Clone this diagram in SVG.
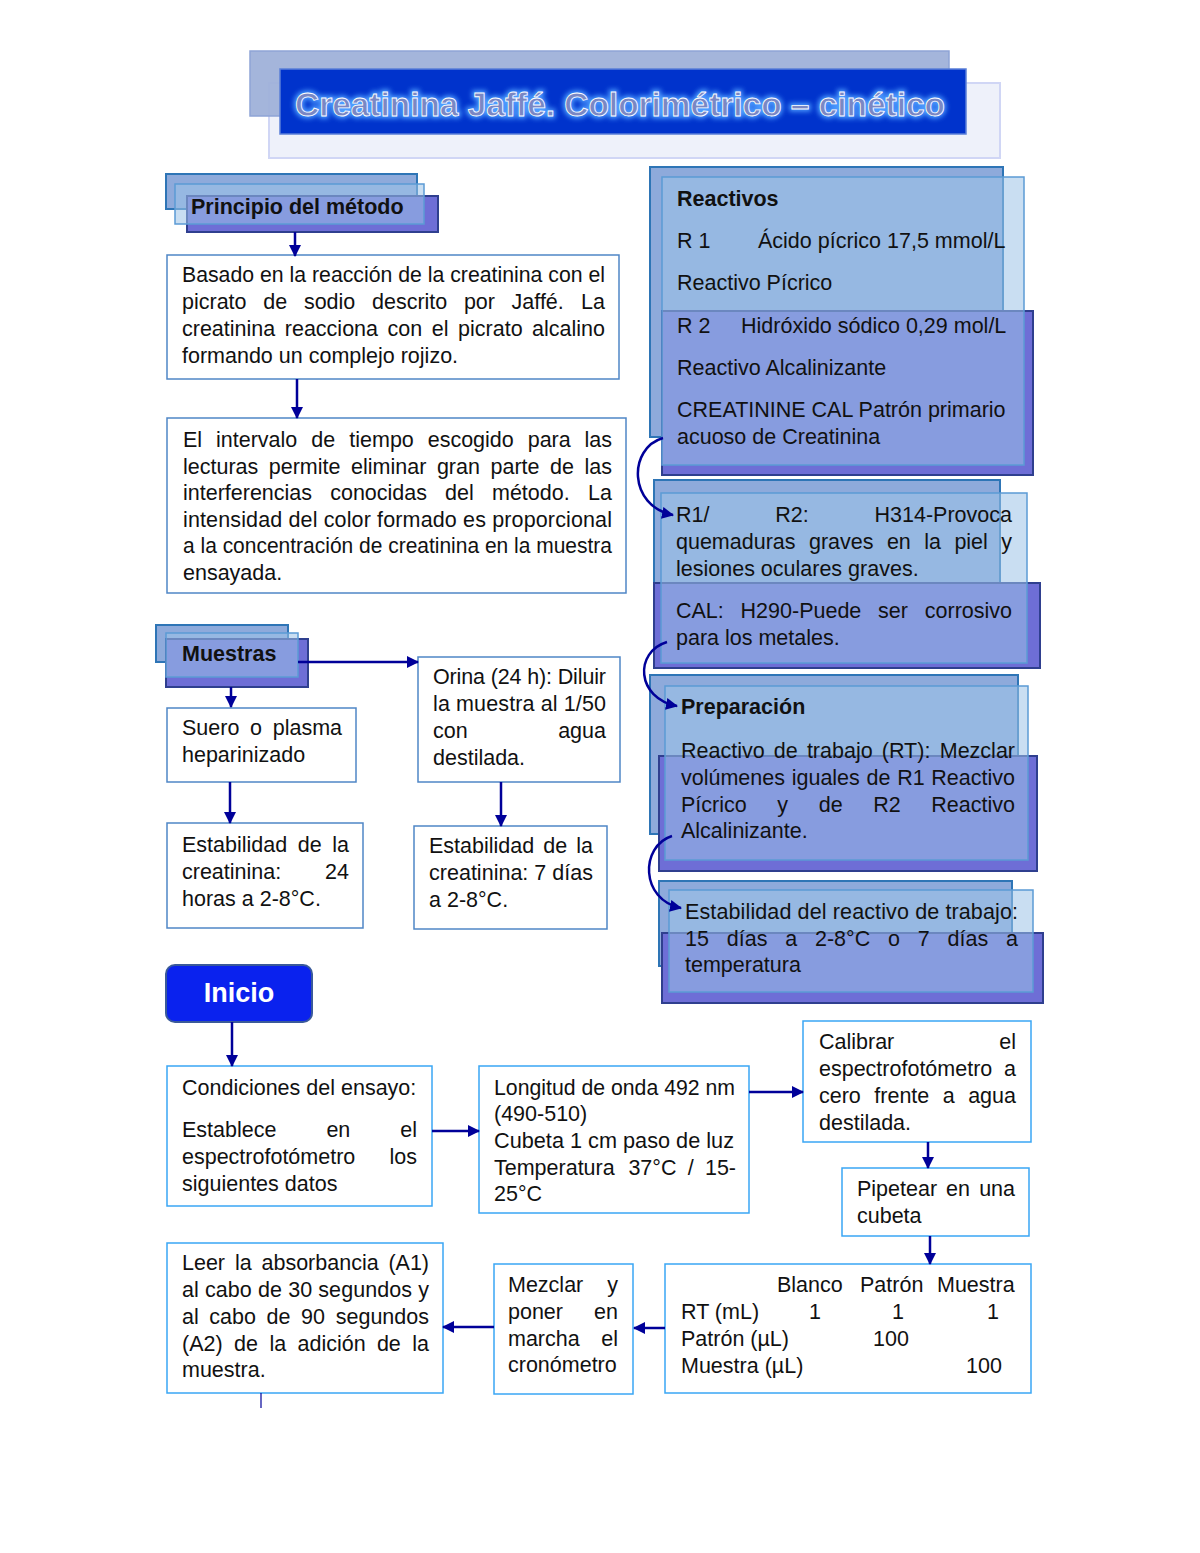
<svg xmlns="http://www.w3.org/2000/svg" width="1200" height="1553" viewBox="0 0 1200 1553">
<defs>
<style>
.t{font-family:"Liberation Sans",Arial,sans-serif;font-size:21.5px;fill:#111}
.bd{font-weight:bold}
.e{text-anchor:end}
.box{fill:#fff;stroke:#4f86c6;stroke-width:1.5}
.box2{fill:#fff;stroke:#3aa6f5;stroke-width:1.5}
.la{fill:#8eaadb;stroke:#2e75b6;stroke-width:2}
.lb{fill:#9cc3e8;fill-opacity:0.55;stroke:#5b9bd5;stroke-width:1.5}
.lc{fill:#6e6ed6;stroke:#2f3f8f;stroke-width:2}
.conn{stroke:#000099;stroke-width:2.5;fill:none}
</style>
<marker id="ah" markerWidth="12" markerHeight="12" refX="11" refY="6" orient="auto" markerUnits="userSpaceOnUse">
<path d="M0,0 L12,6 L0,12 z" fill="#000099"/>
</marker>
<filter id="glow" x="-5%" y="-30%" width="110%" height="160%">
<feGaussianBlur stdDeviation="2.5"/>
</filter>
</defs>
<rect width="1200" height="1553" fill="#fff"/>

<g id="title">
<rect x="269" y="83" width="731" height="75" fill="#eef1fa" stroke="#d0d6f5" stroke-width="2"/>
<rect x="250" y="51" width="699" height="65" fill="#9fb1d9" fill-opacity="0.95" stroke="#8ea4d6" stroke-width="1.5"/>
<rect x="280" y="69" width="686" height="65" fill="#0033cc" stroke="#5a7fd8" stroke-width="1.5"/>
<text x="295" y="116" class="t bd" style="font-size:33px;fill:none;stroke:#4d9cff;stroke-width:5" filter="url(#glow)" textLength="650" lengthAdjust="spacingAndGlyphs">Creatinina Jaffé. Colorimétrico – cinético</text>
<text x="295" y="116" class="t bd" style="font-size:33px;fill:#7a87c4;stroke:#fff;stroke-width:0.8" textLength="650" lengthAdjust="spacingAndGlyphs">Creatinina Jaffé. Colorimétrico – cinético</text>
</g>

<g id="principio">
<rect class="la" x="166" y="174" width="251" height="35"/>
<rect class="lc" x="187" y="196" width="251" height="36"/>
<rect class="lb" x="175" y="184" width="249" height="40"/>
<text class="t bd" x="191" y="214">Principio del método</text>
</g>

<g id="basado">
<rect class="box" x="167" y="255" width="452" height="124"/>
<text class="t" x="182" y="282" textLength="423" lengthAdjust="spacingAndGlyphs">Basado en la reacción de la creatinina con el</text>
<text class="t" y="309"><tspan x="182">picrato</tspan><tspan x="263.2">de</tspan><tspan x="303.9">sodio</tspan><tspan x="372">descrito</tspan><tspan x="463.9">por</tspan><tspan x="511.6">Jaffé.</tspan></text>
<text class="t e" x="605" y="309">La</text>
<text class="t" y="336"><tspan x="182">creatinina</tspan><tspan x="284.8">reacciona</tspan><tspan x="387.5">con</tspan><tspan x="431.8">el</tspan><tspan x="458.1">picrato</tspan></text>
<text class="t e" x="605" y="336">alcalino</text>
<text class="t" x="182" y="363">formando un complejo rojizo.</text>
</g>

<g id="intervalo">
<rect class="box" x="167" y="418" width="459" height="175"/>
<text class="t" y="447"><tspan x="183">El</tspan><tspan x="216">intervalo</tspan><tspan x="311.3">de</tspan><tspan x="349.3">tiempo</tspan><tspan x="427.7">escogido</tspan><tspan x="527.7">para</tspan></text>
<text class="t e" x="612" y="447">las</text>
<text class="t" y="474"><tspan x="183">lecturas</tspan><tspan x="268.8">permite</tspan><tspan x="351.1">eliminar</tspan><tspan x="436.9">gran</tspan><tspan x="490.5">parte</tspan><tspan x="550.1">de</tspan></text>
<text class="t e" x="612" y="474">las</text>
<text class="t" y="500"><tspan x="183">interferencias</tspan><tspan x="330.2">conocidas</tspan><tspan x="445.1">del</tspan><tspan x="492">método.</tspan></text>
<text class="t e" x="612" y="500">La</text>
<text class="t" x="183" y="527" textLength="429" lengthAdjust="spacing">intensidad del color formado es proporcional</text>
<text class="t" x="183" y="553" textLength="429" lengthAdjust="spacingAndGlyphs">a la concentración de creatinina en la muestra</text>
<text class="t" x="183" y="580">ensayada.</text>
</g>

<g id="muestras">
<rect class="la" x="156" y="625" width="132" height="37"/>
<rect class="lc" x="166" y="639" width="142" height="48"/>
<rect class="lb" x="166" y="633" width="132" height="44"/>
<text class="t bd" x="182" y="661">Muestras</text>
</g>

<g id="suero">
<rect class="box" x="167" y="708" width="189" height="74"/>
<text class="t" y="735"><tspan x="182">Suero</tspan><tspan x="250">o</tspan></text>
<text class="t e" x="342" y="735">plasma</text>
<text class="t" x="182" y="762">heparinizado</text>
</g>

<g id="estab24">
<rect class="box" x="167" y="823" width="196" height="105"/>
<text class="t" y="852"><tspan x="182">Estabilidad</tspan><tspan x="297.7">de</tspan></text>
<text class="t e" x="349" y="852">la</text>
<text class="t" x="182" y="879">creatinina:</text>
<text class="t e" x="349" y="879">24</text>
<text class="t" x="182" y="906">horas a 2-8°C.</text>
</g>

<g id="orina">
<rect class="box" x="418" y="657" width="202" height="125"/>
<text class="t" x="433" y="684" textLength="173" lengthAdjust="spacing">Orina (24 h): Diluir</text>
<text class="t" x="433" y="711" textLength="173" lengthAdjust="spacing">la muestra al 1/50</text>
<text class="t" x="433" y="738">con</text>
<text class="t e" x="606" y="738">agua</text>
<text class="t" x="433" y="765">destilada.</text>
</g>

<g id="estab7">
<rect class="box" x="414" y="826" width="193" height="103"/>
<text class="t" y="853"><tspan x="429">Estabilidad</tspan><tspan x="543.2">de</tspan></text>
<text class="t e" x="593" y="853">la</text>
<text class="t" x="429" y="880" textLength="164" lengthAdjust="spacing">creatinina: 7 días</text>
<text class="t" x="429" y="907">a 2-8°C.</text>
</g>

<g id="reactivos">
<rect class="la" x="650" y="167" width="353" height="270"/>
<rect class="lc" x="662" y="311" width="371" height="164"/>
<rect class="lb" x="662" y="177" width="362" height="288"/>
<text class="t bd" x="677" y="206">Reactivos</text>
<text class="t" x="677" y="248">R 1</text>
<text class="t" x="758" y="248">Ácido pícrico 17,5 mmol/L</text>
<text class="t" x="677" y="290">Reactivo Pícrico</text>
<text class="t" x="677" y="333">R 2</text>
<text class="t" x="741" y="333">Hidróxido sódico 0,29 mol/L</text>
<text class="t" x="677" y="375">Reactivo Alcalinizante</text>
<text class="t" x="677" y="417">CREATININE CAL Patrón primario</text>
<text class="t" x="677" y="444">acuoso de Creatinina</text>
</g>

<g id="peligros">
<rect class="la" x="654" y="480" width="346" height="127"/>
<rect class="lc" x="654" y="583" width="386" height="85"/>
<rect class="lb" x="661" y="493" width="366" height="170"/>
<text class="t" y="522"><tspan x="676">R1/</tspan><tspan x="775.3">R2:</tspan></text>
<text class="t e" x="1012" y="522">H314-Provoca</text>
<text class="t" y="549"><tspan x="676">quemaduras</tspan><tspan x="809">graves</tspan><tspan x="886.9">en</tspan><tspan x="924.3">la</tspan><tspan x="954.4">piel</tspan></text>
<text class="t e" x="1012" y="549">y</text>
<text class="t" x="676" y="576">lesiones oculares graves.</text>
<text class="t" y="618"><tspan x="676">CAL:</tspan><tspan x="740.6">H290-Puede</tspan><tspan x="878.1">ser</tspan></text>
<text class="t e" x="1012" y="618">corrosivo</text>
<text class="t" x="676" y="645">para los metales.</text>
</g>

<g id="preparacion">
<rect class="la" x="650" y="675" width="368" height="159"/>
<rect class="lc" x="659" y="756" width="378" height="115"/>
<rect class="lb" x="665" y="686" width="363" height="174"/>
<text class="t bd" x="681" y="714">Preparación</text>
<text class="t" y="758"><tspan x="681">Reactivo</tspan><tspan x="773.8">de</tspan><tspan x="806.9">trabajo</tspan><tspan x="881.8">(RT):</tspan></text>
<text class="t e" x="1015" y="758">Mezclar</text>
<text class="t" y="785"><tspan x="681">volúmenes</tspan><tspan x="791.7">iguales</tspan><tspan x="866.5">de</tspan><tspan x="897.3">R1</tspan></text>
<text class="t e" x="1015" y="785">Reactivo</text>
<text class="t" y="812"><tspan x="681">Pícrico</tspan><tspan x="777.3">y</tspan><tspan x="818.7">de</tspan><tspan x="873.3">R2</tspan></text>
<text class="t e" x="1015" y="812">Reactivo</text>
<text class="t" x="681" y="838">Alcalinizante.</text>
</g>

<g id="estabrt">
<rect class="la" x="659" y="881" width="353" height="85"/>
<rect class="lc" x="662" y="933" width="381" height="70"/>
<rect class="lb" x="669" y="890" width="364" height="102"/>
<text class="t" x="685" y="919" textLength="333" lengthAdjust="spacing">Estabilidad del reactivo de trabajo:</text>
<text class="t" y="946"><tspan x="685">15</tspan><tspan x="726.8">días</tspan><tspan x="785.2">a</tspan><tspan x="815">2-8°C</tspan><tspan x="888">o</tspan><tspan x="917.8">7</tspan><tspan x="947.6">días</tspan></text>
<text class="t e" x="1018" y="946">a</text>
<text class="t" x="685" y="972">temperatura</text>
</g>

<g id="inicio">
<rect x="166" y="965" width="146" height="57" rx="9" fill="#0a22ee" stroke="#3a5a9a" stroke-width="2"/>
<text class="t bd" x="239" y="1002" text-anchor="middle" style="font-size:27px;fill:#fff">Inicio</text>
</g>

<g id="condiciones">
<rect class="box2" x="167" y="1066" width="265" height="140"/>
<text class="t" x="182" y="1095">Condiciones del ensayo:</text>
<text class="t" y="1137"><tspan x="182">Establece</tspan><tspan x="326.4">en</tspan></text>
<text class="t e" x="417" y="1137">el</text>
<text class="t" x="182" y="1164">espectrofotómetro</text>
<text class="t e" x="417" y="1164">los</text>
<text class="t" x="182" y="1191">siguientes datos</text>
</g>

<g id="longitud">
<rect class="box2" x="479" y="1066" width="270" height="147"/>
<text class="t" x="494" y="1095" textLength="241" lengthAdjust="spacingAndGlyphs">Longitud de onda 492 nm</text>
<text class="t" x="494" y="1121">(490-510)</text>
<text class="t" x="494" y="1148" textLength="240" lengthAdjust="spacingAndGlyphs">Cubeta 1 cm paso de luz</text>
<text class="t" y="1175"><tspan x="494">Temperatura</tspan><tspan x="628.4">37°C</tspan><tspan x="687.7">/</tspan></text>
<text class="t e" x="736" y="1175">15-</text>
<text class="t" x="494" y="1201">25°C</text>
</g>

<g id="calibrar">
<rect class="box2" x="803" y="1021" width="228" height="121"/>
<text class="t" x="819" y="1049">Calibrar</text>
<text class="t e" x="1016" y="1049">el</text>
<text class="t" x="819" y="1076">espectrofotómetro</text>
<text class="t e" x="1016" y="1076">a</text>
<text class="t" y="1103"><tspan x="819">cero</tspan><tspan x="874.3">frente</tspan><tspan x="942.8">a</tspan></text>
<text class="t e" x="1016" y="1103">agua</text>
<text class="t" x="819" y="1130">destilada.</text>
</g>

<g id="pipetear">
<rect class="box2" x="842" y="1168" width="187" height="68"/>
<text class="t" y="1196"><tspan x="857">Pipetear</tspan><tspan x="946.1">en</tspan></text>
<text class="t e" x="1015" y="1196">una</text>
<text class="t" x="857" y="1223">cubeta</text>
</g>

<g id="tabla">
<rect class="box2" x="665" y="1264" width="366" height="129"/>
<text class="t" x="777" y="1292">Blanco</text>
<text class="t" x="860" y="1292">Patrón</text>
<text class="t" x="937" y="1292">Muestra</text>
<text class="t" x="681" y="1319">RT (mL)</text>
<text class="t" x="809" y="1319">1</text>
<text class="t" x="892" y="1319">1</text>
<text class="t" x="987" y="1319">1</text>
<text class="t" x="681" y="1346">Patrón (µL)</text>
<text class="t" x="873" y="1346">100</text>
<text class="t" x="681" y="1373">Muestra (µL)</text>
<text class="t" x="966" y="1373">100</text>
</g>

<g id="mezclar">
<rect class="box2" x="494" y="1264" width="139" height="130"/>
<text class="t" x="508" y="1292">Mezclar</text>
<text class="t e" x="618" y="1292">y</text>
<text class="t" x="508" y="1319">poner</text>
<text class="t e" x="618" y="1319">en</text>
<text class="t" x="508" y="1346">marcha</text>
<text class="t e" x="618" y="1346">el</text>
<text class="t" x="508" y="1372">cronómetro</text>
</g>

<g id="leer">
<rect class="box2" x="167" y="1243" width="276" height="150"/>
<text class="t" y="1270"><tspan x="182">Leer</tspan><tspan x="234.9">la</tspan><tspan x="261.5">absorbancia</tspan></text>
<text class="t e" x="429" y="1270">(A1)</text>
<text class="t" x="182" y="1297" textLength="247" lengthAdjust="spacing">al cabo de 30 segundos y</text>
<text class="t" y="1324"><tspan x="182">al</tspan><tspan x="209.3">cabo</tspan><tspan x="266.5">de</tspan><tspan x="301.1">90</tspan></text>
<text class="t e" x="429" y="1324">segundos</text>
<text class="t" y="1351"><tspan x="182">(A2)</tspan><tspan x="234">de</tspan><tspan x="269.4">la</tspan><tspan x="297.5">adición</tspan><tspan x="376.9">de</tspan></text>
<text class="t e" x="429" y="1351">la</text>
<text class="t" x="182" y="1377">muestra.</text>
</g>

<g id="connectors">
<path class="conn" d="M295 232 V256" marker-end="url(#ah)"/>
<path class="conn" d="M297 379 V418" marker-end="url(#ah)"/>
<path class="conn" d="M298 662 H418" marker-end="url(#ah)"/>
<path class="conn" d="M231 687 V707" marker-end="url(#ah)"/>
<path class="conn" d="M230 782 V823" marker-end="url(#ah)"/>
<path class="conn" d="M501 782 V826" marker-end="url(#ah)"/>
<path class="conn" d="M663 438 C628 448 628 506 673 515" marker-end="url(#ah)"/>
<path class="conn" d="M667 642 C634 652 636 698 677 706" marker-end="url(#ah)"/>
<path class="conn" d="M672 836 C640 846 640 900 681 908" marker-end="url(#ah)"/>
<path class="conn" d="M232 1022 V1066" marker-end="url(#ah)"/>
<path class="conn" d="M432 1131 H479" marker-end="url(#ah)"/>
<path class="conn" d="M749 1092 H803" marker-end="url(#ah)"/>
<path class="conn" d="M928 1142 V1168" marker-end="url(#ah)"/>
<path class="conn" d="M930 1236 V1264" marker-end="url(#ah)"/>
<path class="conn" d="M665 1328 H634" marker-end="url(#ah)"/>
<path class="conn" d="M494 1327 H443" marker-end="url(#ah)"/>
<path d="M261 1393 V1408" stroke="#000099" stroke-width="1.2" fill="none"/>
</g>
</svg>
